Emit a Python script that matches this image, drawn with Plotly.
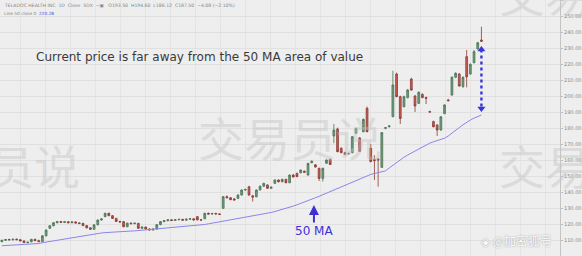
import plotly.graph_objects as go

# ---------------- data ----------------
opens = [109.0, 109.8, 110.3, 110.1, 110.5, 110.2, 109.4, 108.4, 108.9, 110.4,
         109.6, 109.0, 112.6, 117.3, 118.9, 120.8, 121.5, 121.0, 121.4, 120.8,
         121.3, 120.6, 120.4, 119.0, 117.6, 116.7, 119.5, 122.5, 124.6, 126.7,
         125.2, 123.5, 121.6, 121.5, 118.3, 120.5, 120.2, 120.4, 117.3, 118.1,
         116.9, 116.3, 116.8, 119.6, 121.5, 122.1, 122.6, 122.2, 122.7, 122.9,
         122.4, 123.0, 123.3, 124.6, 122.6, 123.3, 126.7, 126.2, 126.6, 126.3,
         129.8, 137.1, 136.4, 135.6, 136.0, 138.1, 141.25, 143.3, 137.6, 137.0,
         141.25, 143.6, 144.4, 142.3, 145.4, 147.5, 146.4, 147.9, 145.8, 150.6,
         151.7, 152.0, 153.0, 150.6, 158.3, 157.0, 154.8, 148.5, 157.9, 160.4,
         175.0, 179.4, 167.3, 164.6, 163.8, 164.6, 176.7, 173.75, 177.7, 192.3,
         167.3, 160.4, 160.6, 155.4, 179.8, 180.8, 187.1, 213.75, 199.6, 193.3,
         199.0, 210.6, 200.0, 195.4, 201.0, 199.0, 190.2, 184.0, 181.9, 178.75,
         189.0, 197.5, 200.6, 211.7, 213.75, 206.0, 224.6, 213.75, 220.8, 229.4,
         235.0]
highs = [110.2, 110.6, 110.8, 110.7, 110.9, 110.5, 109.7, 108.9, 110.7, 110.8,
         110.2, 113.0, 116.6, 119.3, 121.2, 121.9, 121.9, 121.8, 121.8, 121.7,
         121.7, 121.0, 120.7, 119.4, 118.0, 119.8, 122.8, 123.6, 127.0, 127.1,
         125.5, 123.8, 122.0, 121.8, 120.9, 121.0, 120.8, 120.7, 118.5, 118.4,
         117.3, 117.1, 119.9, 121.8, 122.5, 123.0, 122.9, 123.1, 123.3, 123.2,
         123.4, 123.6, 123.5, 124.9, 123.0, 127.0, 127.1, 126.9, 127.0, 126.6,
         137.5, 137.9, 136.8, 136.3, 138.5, 141.6, 142.0, 143.8, 138.2, 141.6,
         144.0, 145.8, 144.8, 143.4, 147.9, 147.9, 148.3, 148.3, 150.9, 151.3,
         152.0, 154.1, 153.4, 158.2, 159.8, 157.3, 155.2, 155.2, 160.4, 160.8,
         182.5, 180.2, 168.0, 165.2, 164.6, 175.0, 180.2, 174.3, 186.0, 193.4,
         170.0, 163.0, 161.3, 177.5, 180.6, 181.8, 215.8, 214.6, 200.2, 200.2,
         204.4, 211.4, 200.6, 202.9, 201.7, 199.6, 190.8, 184.6, 182.3, 187.5,
         194.8, 198.2, 212.3, 214.8, 214.4, 212.3, 228.75, 220.4, 228.75, 233.8,
         243.3]
lows = [108.6, 109.4, 109.8, 109.7, 109.9, 109.1, 108.1, 107.9, 108.6, 109.3,
        108.7, 108.7, 112.3, 117.0, 118.6, 120.4, 120.7, 120.6, 120.5, 120.5,
        120.3, 119.9, 118.6, 117.3, 116.4, 116.4, 119.2, 122.1, 124.3, 124.9,
        123.2, 121.3, 120.8, 118.0, 118.0, 119.8, 119.9, 117.0, 116.8, 116.5,
        115.9, 115.9, 116.5, 119.3, 121.1, 121.7, 121.8, 121.9, 122.3, 122.1,
        122.1, 122.6, 122.2, 122.3, 122.2, 123.0, 125.8, 125.9, 125.9, 125.6,
        129.4, 136.0, 134.9, 134.8, 135.7, 137.8, 140.6, 137.8, 134.0, 136.7,
        141.0, 143.2, 142.0, 142.0, 145.0, 146.0, 146.1, 145.5, 145.5, 149.0,
        149.3, 151.7, 152.0, 150.3, 158.0, 155.3, 146.9, 146.5, 157.6, 156.9,
        170.5, 164.9, 164.2, 163.1, 163.3, 164.2, 176.3, 165.0, 177.3, 177.3,
        158.6, 147.5, 143.3, 155.0, 179.2, 180.4, 186.7, 199.2, 182.5, 192.9,
        198.5, 203.2, 190.0, 195.0, 198.6, 195.0, 189.6, 180.4, 175.0, 178.3,
        188.6, 196.6, 200.2, 211.2, 205.8, 205.0, 205.4, 213.3, 220.4, 229.0,
        233.8]
closes = [109.8, 110.3, 110.1, 110.5, 110.2, 109.4, 108.4, 108.6, 110.4, 109.6,
          109.0, 112.6, 116.2, 118.9, 120.8, 121.5, 121.0, 121.4, 120.8, 121.3,
          120.6, 120.4, 119.0, 117.6, 116.7, 119.5, 122.5, 123.2, 126.7, 125.2,
          123.5, 121.6, 121.3, 118.3, 120.5, 120.2, 120.5, 117.3, 118.1, 116.9,
          116.3, 116.8, 119.6, 121.5, 122.1, 122.6, 122.2, 122.7, 122.9, 122.4,
          123.0, 123.3, 122.5, 122.6, 122.5, 126.7, 126.2, 126.6, 126.3, 126.0,
          137.1, 136.4, 135.2, 135.0, 138.1, 141.25, 141.6, 138.1, 136.8, 141.25,
          143.6, 145.4, 142.3, 143.0, 147.5, 146.4, 147.9, 145.8, 150.6, 149.4,
          149.6, 153.75, 152.3, 157.9, 159.2, 155.6, 148.5, 154.8, 160.0, 157.2,
          178.75, 165.2, 164.6, 163.5, 164.1, 174.6, 179.6, 165.4, 185.4, 177.7,
          159.0, 159.6, 160.0, 177.1, 180.2, 181.25, 206.9, 199.6, 186.0, 199.6,
          203.75, 203.75, 193.75, 202.3, 199.0, 198.6, 190.0, 180.8, 178.75, 187.0,
          194.4, 197.1, 211.7, 214.2, 206.25, 211.7, 212.0, 219.8, 227.7, 233.3,
          234.2]
ma50 = [106.4, 106.5, 106.6, 106.7, 106.8, 106.9, 107.0, 107.1, 107.2, 107.4,
        107.8, 108.3, 108.7, 109.1, 109.6, 110.0, 110.4, 110.8, 111.2, 111.6,
        112.0, 112.4, 112.7, 113.0, 113.3, 113.7, 114.1, 114.4, 114.6, 114.8,
        115.0, 115.2, 115.3, 115.4, 115.5, 115.6, 115.7, 115.9, 116.0, 116.2,
        116.4, 116.6, 116.8, 117.0, 117.2, 117.4, 117.6, 117.8, 118.0, 118.2,
        118.4, 118.6, 118.8, 119.1, 119.4, 119.7, 120.1, 120.5, 120.9, 121.3,
        121.7, 122.1, 122.5, 122.9, 123.3, 123.7, 124.1, 124.5, 124.9, 125.3,
        125.7, 126.2, 126.7, 127.2, 127.8, 128.4, 129.0, 129.7, 130.4, 131.2,
        132.0, 132.8, 133.7, 134.6, 135.5, 136.4, 137.3, 138.3, 139.3, 140.3,
        141.3, 142.3, 143.3, 144.3, 145.3, 146.3, 147.3, 148.3, 149.3, 150.2,
        151.0, 151.6, 152.0, 152.4, 153.2, 155.0, 156.8, 158.6, 160.2, 161.7,
        163.1, 164.4, 165.7, 167.0, 168.2, 169.4, 170.5, 171.4, 172.0, 172.6,
        173.6, 175.0, 176.6, 178.4, 180.3, 182.0, 183.6, 185.0, 186.2, 187.2,
        188.1]
bars = list(range(len(closes)))

# distance arrow (price at top and bottom ends)
gap_top = 229.0
gap_bottom = 192.2

y_tick_values = [110, 120, 130, 140, 150, 160, 170, 180, 190, 200, 210, 220, 230, 240, 250, 260]

symbol_line = ("TELADOC HEALTH INC &nbsp;1D &nbsp;Close &nbsp;5DX &nbsp;\u2212\u25a3 &nbsp;&nbsp;"
               "O193.50 &nbsp;H194.60 &nbsp;L186.12 &nbsp;C187.50 &nbsp;\u22124.08 (\u22122.10%)")
ma_line = "Line 50 close 0 &nbsp;<span style='color:#4a4ae0'>220.28</span>"

# ---------------- figure ----------------
BG = "#eeeeee"
fig = go.Figure()

fig.add_trace(go.Scatter(
    x=bars, y=ma50, mode="lines",
    line=dict(color="#8a86ea", width=1), hoverinfo="skip", showlegend=False))

fig.add_trace(go.Candlestick(
    x=bars, open=opens, high=highs, low=lows, close=closes,
    increasing=dict(fillcolor="#6c9c7b", line=dict(color="#4a7458", width=0.8)),
    decreasing=dict(fillcolor="#c95d50", line=dict(color="#8a3b33", width=0.8)),
    whiskerwidth=0, showlegend=False))

fig.add_trace(go.Scatter(
    x=[bars[-1], bars[-1]], y=[gap_top, gap_bottom], mode="lines+markers",
    line=dict(color="#3b35d8", width=2.4, dash="dot"),
    marker=dict(symbol=["triangle-up", "triangle-down"], size=7, color="#3b35d8"),
    hoverinfo="skip", showlegend=False))

wm_font = dict(family="Noto Sans CJK SC", size=46, color="rgba(195,195,195,0.45)")
annotations = [
    dict(text="交易员说", xref="paper", yref="paper", x=0.35, y=0.467,
         xanchor="left", yanchor="middle", showarrow=False, font=wm_font),
    dict(text="交易员说", xref="paper", yref="paper", x=-0.19, y=0.359,
         xanchor="left", yanchor="middle", showarrow=False, font=wm_font),
    dict(text="交易员说", xref="paper", yref="paper", x=0.888, y=0.359,
         xanchor="left", yanchor="middle", showarrow=False, font=wm_font),
    dict(text="交易员说", xref="paper", yref="paper", x=0.888, y=1.031,
         xanchor="left", yanchor="middle", showarrow=False, font=wm_font),
    dict(text="Current price is far away from the 50 MA area of value",
         x=53.6, y=224.4, xref="x", yref="y", showarrow=False,
         xanchor="center", yanchor="middle",
         font=dict(family="DejaVu Sans", size=12, color="#3a3a3a")),
    dict(text="50 MA", x=84.6, y=131.9, xref="x", yref="y",
         showarrow=True, ax=0, ay=26, arrowhead=2, arrowsize=1, arrowwidth=2,
         arrowcolor="#3f2fd6", standoff=0,
         font=dict(family="DejaVu Sans", size=12, color="#3f2fd6")),
    dict(text=symbol_line, xref="paper", yref="paper", x=0.003, y=0.998,
         xanchor="left", yanchor="top", showarrow=False,
         font=dict(family="DejaVu Sans", size=4.6, color="#858585")),
    dict(text=ma_line, xref="paper", yref="paper", x=0.003, y=0.965,
         xanchor="left", yanchor="top", showarrow=False,
         font=dict(family="DejaVu Sans", size=4.3, color="#858585")),
    dict(text="\u25c8 @加密狐号", xref="paper", yref="paper", x=0.99, y=0.062,
         xanchor="right", yanchor="middle", showarrow=False,
         font=dict(family="Noto Sans CJK SC", size=12, color="#fbfbfb",
                   shadow="0px 0px 1.5px #8a8a8a")),
]

fig.update_layout(
    width=582, height=256,
    margin=dict(l=0, r=10, t=0, b=0),
    paper_bgcolor=BG, plot_bgcolor=BG,
    showlegend=False,
    annotations=annotations,
    xaxis=dict(range=[-0.5, 151.3], rangeslider=dict(visible=False),
               showticklabels=False, ticks="", zeroline=False,
               showgrid=True, gridcolor="#e4e4e4", gridwidth=1,
               tick0=5.17, dtick=6.77, fixedrange=True),
    yaxis=dict(range=[100, 260], side="right", tickvals=y_tick_values,
               tickformat=".2f", ticks="outside", ticklen=2, tickcolor="#bdbdbd",
               tickfont=dict(family="DejaVu Sans", size=5, color="#8a8a8a"),
               showline=True, linecolor="#c4c4c4", linewidth=1, mirror=False,
               showgrid=True, gridcolor="#e0e0e0", gridwidth=1, zeroline=False),
)

fig.write_html("out.html")
